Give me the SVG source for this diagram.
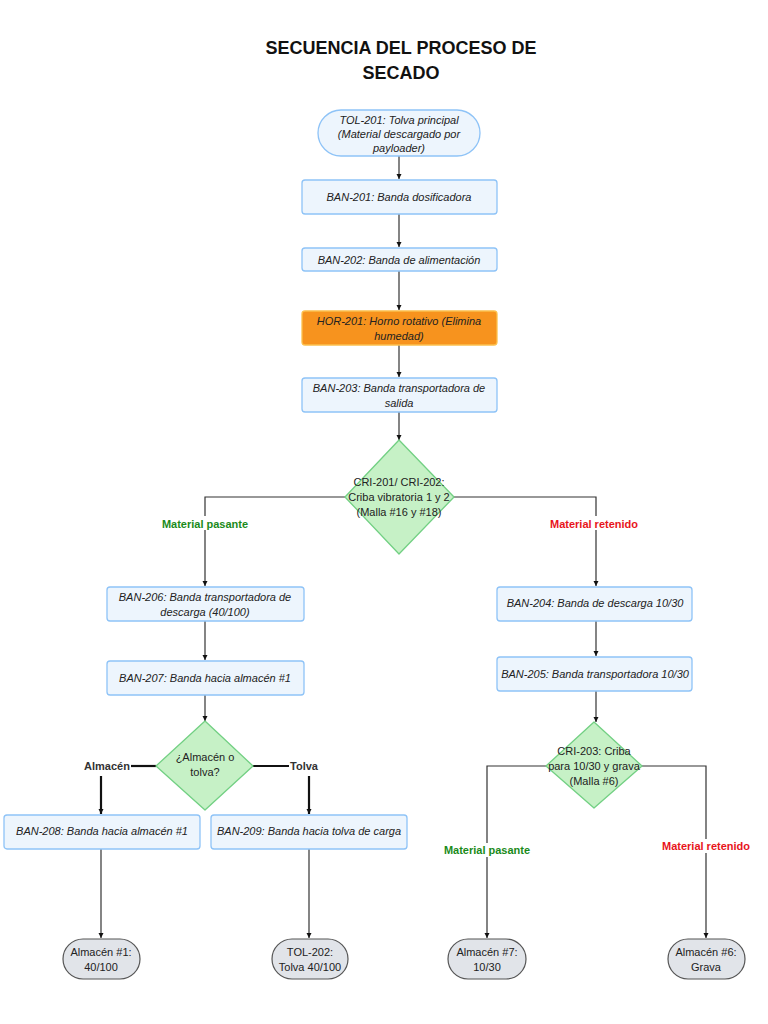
<svg xmlns="http://www.w3.org/2000/svg" width="768" height="1024" viewBox="0 0 768 1024">
<defs>
<marker id="ah" viewBox="0 0 10 10" refX="10" refY="5" markerWidth="5" markerHeight="7" orient="auto" markerUnits="userSpaceOnUse"><path d="M0,0 L10,5 L0,10 z" fill="#111"/></marker>
<style>
.box{fill:#edf5fd;stroke:#8ec3f7;stroke-width:1.3}
.org{fill:#f7931e;stroke:#fcc04d;stroke-width:1.3}
.dia{fill:#c6f1c6;stroke:#72d083;stroke-width:1.3}
.term{fill:#e1e4e9;stroke:#555;stroke-width:1.2}
.t{font-family:"Liberation Sans",Arial,sans-serif;font-size:11px;font-style:italic;fill:#222;text-anchor:middle}
.n{font-family:"Liberation Sans",Arial,sans-serif;font-size:11px;fill:#222;text-anchor:middle}
.lb{font-family:"Liberation Sans",Arial,sans-serif;font-size:11px;font-weight:bold;text-anchor:middle}
.title{font-family:"Liberation Sans",Arial,sans-serif;font-size:18px;font-weight:bold;fill:#111;text-anchor:middle}
.c{fill:none;stroke:#333;stroke-width:1.2}
.ck{fill:none;stroke:#111;stroke-width:2.2}
</style>
</defs>
<rect width="768" height="1024" fill="#fff"/>
<text class="title" x="401" y="54">SECUENCIA DEL PROCESO DE</text>
<text class="title" x="401" y="79">SECADO</text>

<g id="connectors">
<path class="c" d="M399,156 V179" marker-end="url(#ah)"/>
<path class="c" d="M399,214 V247" marker-end="url(#ah)"/>
<path class="c" d="M399,271 V310" marker-end="url(#ah)"/>
<path class="c" d="M399,345 V377" marker-end="url(#ah)"/>
<path class="c" d="M399,412 V440" marker-end="url(#ah)"/>
<path class="c" d="M345,497 H205 V586" marker-end="url(#ah)"/>
<path class="c" d="M454,497 H596 V586" marker-end="url(#ah)"/>
<path class="c" d="M205,621 V660" marker-end="url(#ah)"/>
<path class="c" d="M205,695 V721" marker-end="url(#ah)"/>
<path class="c" d="M596,621 V656" marker-end="url(#ah)"/>
<path class="c" d="M596,691 V722" marker-end="url(#ah)"/>
<path class="ck" d="M156,766 H131"/>
<path class="ck" d="M101,776 V814" marker-end="url(#ah)"/>
<path class="ck" d="M253,766 H289"/>
<path class="ck" d="M309,776 V814" marker-end="url(#ah)"/>
<path class="c" d="M101,849 V938" marker-end="url(#ah)"/>
<path class="c" d="M309,849 V938" marker-end="url(#ah)"/>
<path class="c" d="M546,766 H487 V938" marker-end="url(#ah)"/>
<path class="c" d="M642,766 H706 V938" marker-end="url(#ah)"/>
<rect x="150" y="516" width="110" height="14" fill="#fff"/>
<text class="lb" x="205" y="528" fill="#1a8a1a">Material pasante</text>
<rect x="540" y="516" width="112" height="14" fill="#fff"/>
<text class="lb" x="594" y="528" fill="#e8141b">Material retenido</text>
<text class="lb" x="107" y="770" fill="#333">Almacén</text>
<text class="lb" x="304" y="770" fill="#333">Tolva</text>
<rect x="432" y="843" width="110" height="14" fill="#fff"/>
<text class="lb" x="487" y="854" fill="#1a8a1a">Material pasante</text>
<rect x="650" y="839" width="112" height="14" fill="#fff"/>
<text class="lb" x="706" y="850" fill="#e8141b">Material retenido</text>
</g>

<g id="tol201">
<rect class="box" x="318" y="110" width="162" height="46" rx="23"/>
<text class="t" x="399" y="124">TOL-201: Tolva principal</text>
<text class="t" x="399" y="138">(Material descargado por</text>
<text class="t" x="399" y="152">payloader)</text>
</g>
<g id="ban201">
<rect class="box" x="302" y="180" width="195" height="34" rx="3"/>
<text class="t" x="399" y="201">BAN-201: Banda dosificadora</text>
</g>
<g id="ban202">
<rect class="box" x="302" y="248" width="195" height="23" rx="3"/>
<text class="t" x="399" y="264">BAN-202: Banda de alimentación</text>
</g>
<g id="hor201">
<rect class="org" x="302" y="311" width="195" height="34" rx="3"/>
<text class="t" x="399" y="325">HOR-201: Horno rotativo (Elimina</text>
<text class="t" x="399" y="340">humedad)</text>
</g>
<g id="ban203">
<rect class="box" x="302" y="378" width="195" height="34" rx="3"/>
<text class="t" x="399" y="392">BAN-203: Banda transportadora de</text>
<text class="t" x="399" y="407">salida</text>
</g>
<g id="cri201">
<path class="dia" d="M399,440 L454,497 L399,554 L345,497 Z" stroke-linejoin="round"/>
<text class="n" x="399" y="486">CRI-201/ CRI-202:</text>
<text class="n" x="399" y="501">Criba vibratoria 1 y 2</text>
<text class="n" x="399" y="516">(Malla #16 y #18)</text>
</g>
<g id="ban206">
<rect class="box" x="107" y="587" width="197" height="34" rx="3"/>
<text class="t" x="205" y="601">BAN-206: Banda transportadora de</text>
<text class="t" x="205" y="616">descarga (40/100)</text>
</g>
<g id="ban207">
<rect class="box" x="107" y="661" width="197" height="34" rx="3"/>
<text class="t" x="205" y="682">BAN-207: Banda hacia almacén #1</text>
</g>
<g id="dec-almacen">
<path class="dia" d="M205,721 L253,766 L205,810 L156,766 Z" stroke-linejoin="round"/>
<text class="n" x="205" y="761">¿Almacén o</text>
<text class="n" x="205" y="776">tolva?</text>
</g>
<g id="ban208">
<rect class="box" x="4" y="815" width="196" height="34" rx="3"/>
<text class="t" x="102" y="835">BAN-208: Banda hacia almacén #1</text>
</g>
<g id="ban209">
<rect class="box" x="211" y="815" width="196" height="34" rx="3"/>
<text class="t" x="309" y="835">BAN-209: Banda hacia tolva de carga</text>
</g>
<g id="almacen1">
<rect class="term" x="63" y="939" width="77" height="40" rx="20"/>
<text class="n" x="101" y="956">Almacén #1:</text>
<text class="n" x="101" y="971">40/100</text>
</g>
<g id="tol202">
<rect class="term" x="272" y="939" width="76" height="40" rx="20"/>
<text class="n" x="310" y="956">TOL-202:</text>
<text class="n" x="310" y="971">Tolva 40/100</text>
</g>
<g id="ban204">
<rect class="box" x="497" y="587" width="195" height="34" rx="3"/>
<text class="t" x="595" y="607">BAN-204: Banda de descarga 10/30</text>
</g>
<g id="ban205">
<rect class="box" x="497" y="657" width="195" height="34" rx="3"/>
<text class="t" x="595" y="678">BAN-205: Banda transportadora 10/30</text>
</g>
<g id="cri203">
<path class="dia" d="M594,722 L642,766 L594,808 L546,766 Z" stroke-linejoin="round"/>
<text class="n" x="594" y="755">CRI-203: Criba</text>
<text class="n" x="594" y="770">para 10/30 y grava</text>
<text class="n" x="594" y="785">(Malla #6)</text>
</g>
<g id="almacen7">
<rect class="term" x="448" y="939" width="78" height="40" rx="20"/>
<text class="n" x="487" y="956">Almacén #7:</text>
<text class="n" x="487" y="971">10/30</text>
</g>
<g id="almacen6">
<rect class="term" x="668" y="939" width="77" height="40" rx="20"/>
<text class="n" x="706" y="956">Almacén #6:</text>
<text class="n" x="706" y="971">Grava</text>
</g>
</svg>
